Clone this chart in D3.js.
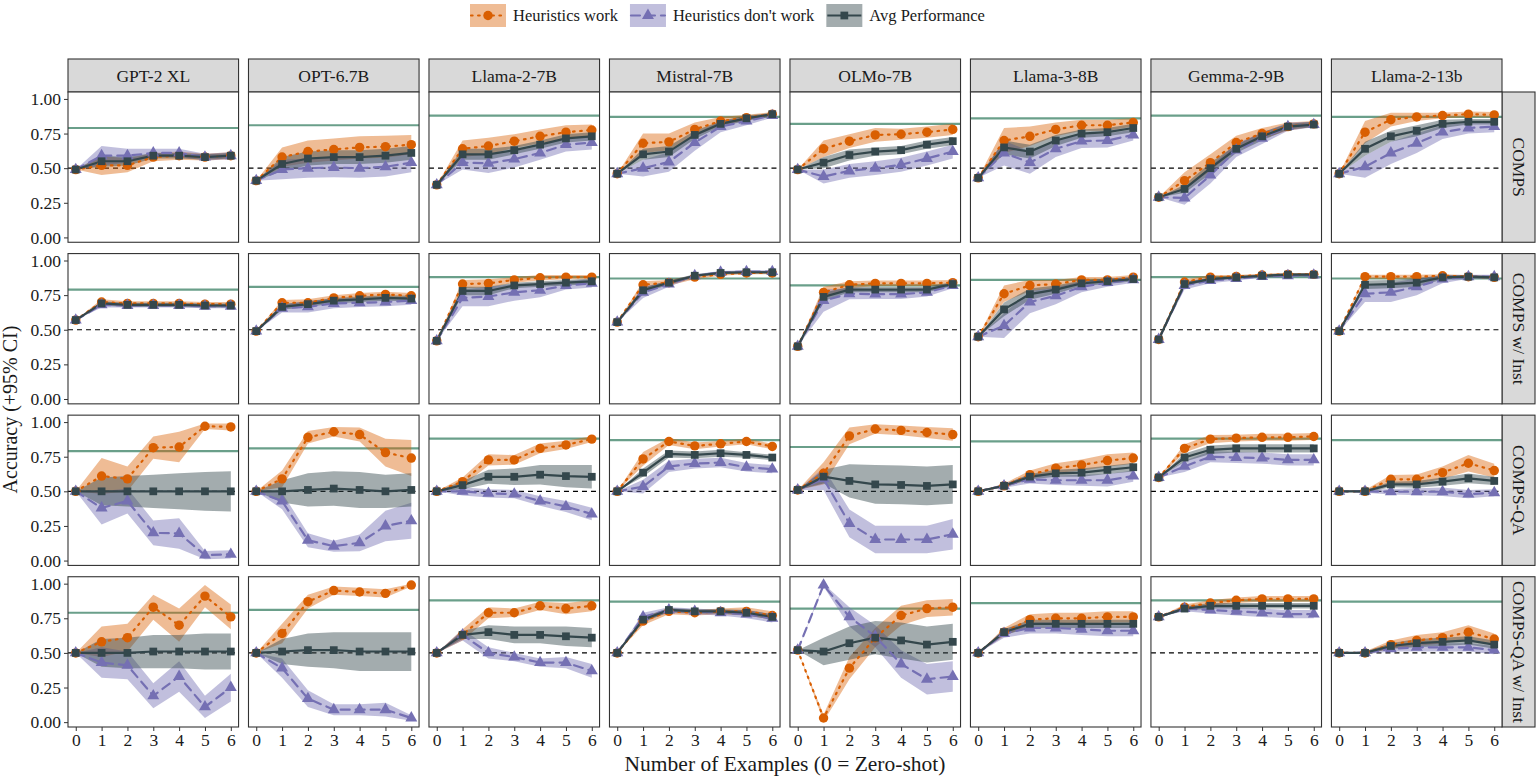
<!DOCTYPE html>
<html>
<head>
<meta charset="utf-8">
<script src="https://cdn.jsdelivr.net/npm/d3@7.9.0/dist/d3.min.js"></script>
<style>
  body { margin: 0; background: #fff; }
  text { font-family: "Liberation Serif", "DejaVu Serif", serif; fill: #1a1a1a; }
</style>
</head>
<body>
<svg id="chart"></svg>
<script>
const models = ['GPT-2 XL', 'OPT-6.7B', 'Llama-2-7B', 'Mistral-7B', 'OLMo-7B', 'Llama-3-8B', 'Gemma-2-9B', 'Llama-2-13b'];
const tasks = ['COMPS', 'COMPS w/ Inst', 'COMPS-QA', 'COMPS-QA w/ Inst'];
const shots = [0, 1, 2, 3, 4, 5, 6];
const yTicks = [0, 0.25, 0.5, 0.75, 1];
const chance = 0.5;
// green reference line, one per model
const baseline = [0.79, 0.81, 0.88, 0.87, 0.82, 0.86, 0.88, 0.87];

// [task][model][shot]
const workMean = [
  [[0.49,0.52,0.52,0.58,0.59,0.58,0.59],[0.41,0.58,0.62,0.635,0.65,0.655,0.67],[0.38,0.64,0.66,0.695,0.73,0.76,0.775],[0.46,0.68,0.69,0.78,0.84,0.865,0.89],
   [0.49,0.64,0.695,0.74,0.745,0.76,0.78],[0.43,0.70,0.73,0.78,0.81,0.81,0.83],[0.29,0.41,0.54,0.685,0.75,0.80,0.82],[0.46,0.76,0.85,0.87,0.88,0.89,0.885]],
  [[0.57,0.70,0.69,0.69,0.69,0.685,0.685],[0.49,0.695,0.695,0.73,0.745,0.755,0.745],[0.42,0.83,0.835,0.86,0.875,0.88,0.88],[0.555,0.825,0.84,0.88,0.90,0.91,0.91],
   [0.38,0.77,0.825,0.835,0.835,0.835,0.84],[0.45,0.76,0.82,0.83,0.86,0.86,0.88],[0.43,0.845,0.88,0.885,0.895,0.90,0.90],[0.49,0.883,0.883,0.883,0.89,0.883,0.878]],
  [[0.50,0.61,0.59,0.815,0.82,0.97,0.965],[0.50,0.59,0.89,0.93,0.91,0.78,0.74],[0.50,0.57,0.727,0.727,0.81,0.835,0.877],[0.50,0.734,0.86,0.828,0.843,0.86,0.824],
   [0.51,0.63,0.90,0.95,0.94,0.925,0.91],[0.50,0.54,0.62,0.667,0.69,0.722,0.74],[0.60,0.81,0.877,0.884,0.89,0.89,0.896],[0.50,0.50,0.587,0.587,0.635,0.703,0.65]],
  [[0.50,0.58,0.61,0.83,0.70,0.91,0.76],[0.50,0.64,0.87,0.95,0.94,0.93,0.99],[0.50,0.63,0.79,0.79,0.84,0.82,0.84],[0.50,0.73,0.80,0.79,0.80,0.80,0.77],
   [0.52,0.03,0.39,0.61,0.77,0.82,0.83],[0.50,0.65,0.74,0.75,0.75,0.76,0.76],[0.76,0.83,0.86,0.88,0.89,0.89,0.89],[0.50,0.50,0.56,0.59,0.61,0.65,0.60]]
];
const workErr = [
  [[0,0.07,0.05,0.03,0.03,0.025,0.025],[0,0.07,0.08,0.08,0.08,0.08,0.07],[0,0.06,0.06,0.05,0.05,0.05,0.04],[0,0.07,0.06,0.05,0.03,0.02,0.015],
   [0,0.06,0.05,0.05,0.04,0.04,0.04],[0,0.09,0.07,0.05,0.04,0.04,0.03],[0,0.06,0.06,0.05,0.04,0.03,0.02],[0,0.08,0.05,0.03,0.02,0.02,0.02]],
  [[0,0.02,0.015,0.015,0.015,0.015,0.015],[0,0.02,0.025,0.02,0.02,0.02,0.02],[0,0.03,0.03,0.02,0.02,0.015,0.015],[0,0.025,0.02,0.015,0.01,0.01,0.01],
   [0,0.04,0.025,0.02,0.02,0.02,0.02],[0,0.06,0.04,0.03,0.02,0.02,0.015],[0,0.02,0.015,0.01,0.01,0.01,0.01],[0,0.015,0.015,0.015,0.01,0.01,0.01]],
  [[0,0.13,0.09,0.08,0.11,0.02,0.025],[0,0.06,0.045,0.035,0.05,0.10,0.13],[0,0.03,0.04,0.035,0.035,0.03,0.02],[0,0.05,0.025,0.025,0.02,0.02,0.02],
   [0,0.08,0.06,0.035,0.035,0.04,0.045],[0,0.015,0.03,0.035,0.04,0.045,0.04],[0,0.03,0.03,0.025,0.025,0.025,0.025],[0,0.01,0.03,0.035,0.045,0.06,0.05]],
  [[0,0.11,0.10,0.09,0.12,0.08,0.09],[0,0.07,0.05,0.03,0.03,0.03,0.01],[0,0.04,0.04,0.03,0.03,0.04,0.04],[0,0.03,0.02,0.02,0.02,0.03,0.03],
   [0,0.025,0.08,0.07,0.07,0.06,0.06],[0,0.03,0.04,0.04,0.04,0.04,0.04],[0,0.02,0.02,0.02,0.02,0.02,0.02],[0,0.01,0.03,0.04,0.04,0.05,0.04]]
];
const failMean = [
  [[0.49,0.59,0.59,0.61,0.61,0.58,0.59],[0.41,0.49,0.50,0.505,0.50,0.51,0.54],[0.38,0.54,0.535,0.565,0.61,0.67,0.685],[0.46,0.50,0.545,0.685,0.80,0.84,0.88],
   [0.49,0.44,0.48,0.50,0.525,0.57,0.62],[0.43,0.61,0.54,0.64,0.695,0.70,0.74],[0.29,0.285,0.45,0.63,0.715,0.80,0.815],[0.46,0.51,0.61,0.68,0.76,0.79,0.80]],
  [[0.57,0.68,0.675,0.675,0.675,0.67,0.67],[0.49,0.655,0.665,0.69,0.695,0.70,0.71],[0.42,0.73,0.74,0.77,0.785,0.82,0.835],[0.555,0.77,0.83,0.89,0.915,0.92,0.92],
   [0.38,0.71,0.76,0.757,0.757,0.77,0.82],[0.45,0.53,0.70,0.745,0.81,0.84,0.86],[0.43,0.82,0.855,0.87,0.885,0.89,0.895],[0.49,0.76,0.77,0.81,0.866,0.883,0.883]],
  [[0.50,0.38,0.43,0.20,0.196,0.04,0.045],[0.50,0.43,0.147,0.104,0.128,0.25,0.287],[0.50,0.50,0.485,0.48,0.43,0.39,0.336],[0.50,0.534,0.68,0.70,0.708,0.674,0.66],
   [0.51,0.59,0.268,0.152,0.152,0.152,0.19],[0.50,0.54,0.587,0.58,0.58,0.58,0.61],[0.60,0.68,0.75,0.744,0.74,0.727,0.727],[0.50,0.50,0.497,0.497,0.497,0.48,0.49]],
  [[0.50,0.43,0.41,0.19,0.33,0.11,0.25],[0.50,0.39,0.17,0.09,0.09,0.09,0.03],[0.50,0.63,0.50,0.47,0.43,0.43,0.37],[0.50,0.76,0.81,0.80,0.79,0.78,0.75],
   [0.52,0.99,0.76,0.62,0.42,0.31,0.33],[0.50,0.64,0.68,0.68,0.67,0.66,0.66],[0.76,0.82,0.81,0.80,0.79,0.78,0.78],[0.50,0.50,0.53,0.54,0.54,0.54,0.52]]
];
const failErr = [
  [[0,0.07,0.05,0.03,0.03,0.025,0.025],[0,0.07,0.07,0.07,0.07,0.07,0.07],[0,0.05,0.07,0.06,0.05,0.05,0.05],[0,0.06,0.07,0.06,0.04,0.03,0.015],
   [0,0.05,0.05,0.05,0.05,0.05,0.05],[0,0.09,0.08,0.06,0.05,0.05,0.04],[0,0.05,0.06,0.05,0.04,0.03,0.02],[0,0.08,0.08,0.07,0.05,0.04,0.04]],
  [[0,0.02,0.015,0.015,0.015,0.015,0.015],[0,0.03,0.04,0.035,0.03,0.03,0.03],[0,0.06,0.07,0.06,0.05,0.03,0.03],[0,0.04,0.02,0.01,0.01,0.01,0.01],
   [0,0.08,0.04,0.035,0.035,0.03,0.02],[0,0.09,0.08,0.06,0.04,0.03,0.02],[0,0.03,0.02,0.015,0.01,0.01,0.01],[0,0.06,0.07,0.06,0.03,0.015,0.015]],
  [[0,0.12,0.09,0.09,0.11,0.03,0.03],[0,0.06,0.05,0.04,0.06,0.11,0.13],[0,0.03,0.03,0.03,0.035,0.04,0.045],[0,0.05,0.04,0.035,0.035,0.03,0.03],
   [0,0.08,0.10,0.10,0.10,0.10,0.11],[0,0.015,0.03,0.035,0.04,0.045,0.04],[0,0.04,0.04,0.04,0.04,0.04,0.04],[0,0.01,0.02,0.025,0.03,0.03,0.025]],
  [[0,0.11,0.10,0.09,0.11,0.08,0.10],[0,0.07,0.06,0.04,0.04,0.05,0.02],[0,0.04,0.04,0.03,0.03,0.04,0.05],[0,0.03,0.02,0.02,0.02,0.03,0.03],
   [0,0.01,0.07,0.08,0.10,0.11,0.11],[0,0.03,0.04,0.04,0.04,0.04,0.04],[0,0.02,0.025,0.03,0.03,0.03,0.03],[0,0.01,0.02,0.03,0.03,0.03,0.03]]
];
const avgMean = [
  [[0.49,0.55,0.55,0.59,0.59,0.58,0.59],[0.41,0.53,0.57,0.58,0.58,0.59,0.61],[0.38,0.60,0.60,0.63,0.67,0.715,0.73],[0.46,0.60,0.62,0.74,0.82,0.86,0.89],
   [0.49,0.54,0.595,0.62,0.63,0.67,0.695],[0.43,0.65,0.62,0.70,0.75,0.76,0.79],[0.29,0.35,0.50,0.64,0.73,0.80,0.815],[0.46,0.64,0.73,0.77,0.82,0.835,0.835]],
  [[0.57,0.69,0.68,0.68,0.68,0.675,0.675],[0.49,0.665,0.685,0.71,0.72,0.73,0.725],[0.42,0.78,0.78,0.82,0.83,0.84,0.85],[0.555,0.785,0.84,0.89,0.91,0.915,0.915],
   [0.38,0.737,0.79,0.79,0.79,0.79,0.83],[0.45,0.647,0.757,0.79,0.835,0.85,0.866],[0.43,0.83,0.866,0.878,0.89,0.898,0.898],[0.49,0.825,0.83,0.84,0.878,0.883,0.878]],
  [[0.50,0.50,0.50,0.50,0.50,0.50,0.50],[0.50,0.50,0.51,0.52,0.51,0.50,0.51],[0.50,0.545,0.605,0.605,0.62,0.61,0.605],[0.50,0.635,0.77,0.763,0.775,0.763,0.744],
   [0.51,0.606,0.575,0.55,0.546,0.539,0.55],[0.50,0.54,0.606,0.63,0.635,0.655,0.674],[0.60,0.744,0.80,0.81,0.81,0.81,0.81],[0.50,0.50,0.55,0.55,0.57,0.594,0.575]],
  [[0.50,0.50,0.50,0.51,0.51,0.51,0.51],[0.50,0.51,0.52,0.52,0.51,0.51,0.51],[0.50,0.63,0.65,0.63,0.63,0.62,0.61],[0.50,0.74,0.81,0.80,0.80,0.79,0.76],
   [0.52,0.51,0.57,0.61,0.59,0.56,0.58],[0.50,0.65,0.71,0.71,0.71,0.71,0.71],[0.76,0.82,0.84,0.84,0.84,0.84,0.84],[0.50,0.50,0.55,0.57,0.58,0.59,0.56]]
];
const avgErr = [
  [[0,0.04,0.03,0.02,0.02,0.02,0.02],[0,0.05,0.05,0.05,0.05,0.05,0.05],[0,0.04,0.04,0.03,0.03,0.03,0.03],[0,0.04,0.04,0.03,0.02,0.02,0.01],
   [0,0.04,0.04,0.03,0.03,0.03,0.03],[0,0.05,0.05,0.04,0.03,0.03,0.03],[0,0.03,0.04,0.03,0.03,0.02,0.02],[0,0.05,0.04,0.04,0.03,0.02,0.02]],
  [[0,0.015,0.015,0.015,0.015,0.015,0.015],[0,0.02,0.02,0.02,0.02,0.02,0.02],[0,0.03,0.03,0.02,0.02,0.02,0.02],[0,0.02,0.015,0.01,0.01,0.01,0.01],
   [0,0.03,0.02,0.02,0.02,0.02,0.015],[0,0.05,0.04,0.03,0.02,0.02,0.015],[0,0.015,0.01,0.01,0.01,0.01,0.01],[0,0.03,0.03,0.03,0.015,0.01,0.01]],
  [[0,0.10,0.11,0.12,0.13,0.14,0.145],[0,0.08,0.12,0.125,0.13,0.12,0.12],[0,0.03,0.05,0.06,0.07,0.08,0.085],[0,0.03,0.025,0.025,0.025,0.02,0.02],
   [0,0.05,0.12,0.14,0.14,0.14,0.14],[0,0.01,0.02,0.025,0.03,0.03,0.03],[0,0.03,0.03,0.03,0.03,0.03,0.03],[0,0.01,0.02,0.025,0.03,0.035,0.03]],
  [[0,0.10,0.11,0.12,0.12,0.13,0.13],[0,0.09,0.12,0.13,0.14,0.14,0.14],[0,0.03,0.05,0.06,0.06,0.07,0.07],[0,0.02,0.015,0.015,0.015,0.02,0.02],
   [0,0.10,0.12,0.12,0.13,0.13,0.13],[0,0.02,0.03,0.03,0.03,0.03,0.03],[0,0.015,0.02,0.02,0.02,0.02,0.02],[0,0.01,0.02,0.03,0.03,0.03,0.03]]
];

const series = [
  { label: 'Heuristics work', color: '#d95f02', band: 0.42, mean: workMean, err: workErr, dash: '1.6,5.5', shape: d3.symbolCircle, size: 70 },
  { label: "Heuristics don't work", color: '#7570b3', band: 0.45, mean: failMean, err: failErr, dash: '9,6', shape: d3.symbolTriangle, size: 62 },
  { label: 'Avg Performance', color: '#34474c', band: 0.45, mean: avgMean, err: avgErr, dash: null, shape: d3.symbolSquare, size: 60 }
];

const width = 1539, height = 777;
const svg = d3.select('#chart').attr('width', width).attr('height', height);

const colBand = d3.scaleBand().domain(models).range([68, 1502]).paddingInner(0.055);
const rowBand = d3.scaleBand().domain(tasks).range([92, 727]).paddingInner(0.07);
const pw = colBand.bandwidth(), ph = rowBand.bandwidth();

const x = d3.scaleLinear().domain([-0.3, 6.3]).range([0, pw]);
const y = d3.scaleLinear().domain([-0.035, 1.05]).range([ph, 0]);

const stripH = 33;
const stripFont = '17.5px', tickFont = '17.5px';

// column strips
models.forEach(m => {
  const g = svg.append('g').attr('transform', `translate(${colBand(m)},${rowBand(tasks[0]) - stripH})`);
  g.append('rect').attr('width', pw).attr('height', stripH)
    .attr('fill', '#d9d9d9').attr('stroke', '#333').attr('stroke-width', 1.1);
  g.append('text').attr('x', pw / 2).attr('y', stripH / 2 + 6)
    .attr('text-anchor', 'middle').style('font-size', stripFont).text(m);
});

// row strips
tasks.forEach(t => {
  const g = svg.append('g').attr('transform', `translate(${colBand(models[7]) + pw},${rowBand(t)})`);
  g.append('rect').attr('width', stripH).attr('height', ph)
    .attr('fill', '#d9d9d9').attr('stroke', '#333').attr('stroke-width', 1.1);
  g.append('text').attr('transform', `translate(${stripH / 2 - 6},${ph / 2}) rotate(90)`)
    .attr('text-anchor', 'middle').style('font-size', stripFont).text(t);
});

const area = d3.area().x((d, i) => x(shots[i])).y0(d => y(d[0])).y1(d => y(d[1]));
const line = d3.line().x((d, i) => x(shots[i])).y(d => y(d));

tasks.forEach((t, ti) => {
  models.forEach((m, mi) => {
    const g = svg.append('g').attr('transform', `translate(${colBand(m)},${rowBand(t)})`);
    g.append('rect').attr('width', pw).attr('height', ph).attr('fill', '#fff');

    // reference lines
    g.append('line').attr('x1', 0).attr('x2', pw)
      .attr('y1', y(baseline[mi])).attr('y2', y(baseline[mi]))
      .attr('stroke', '#6a9f8a').attr('stroke-width', 2.2);
    g.append('line').attr('x1', 0).attr('x2', pw)
      .attr('y1', y(chance)).attr('y2', y(chance))
      .attr('stroke', '#000').attr('stroke-width', 1.2).attr('stroke-dasharray', '5,4');

    // ribbons
    series.forEach(s => {
      const mean = s.mean[ti][mi], err = s.err[ti][mi];
      const bounds = mean.map((v, i) => [v - err[i], v + err[i]]);
      g.append('path').datum(bounds).attr('d', area)
        .attr('fill', s.color).attr('fill-opacity', s.band);
    });
    // lines
    series.forEach(s => {
      g.append('path').datum(s.mean[ti][mi]).attr('d', line)
        .attr('fill', 'none').attr('stroke', s.color).attr('stroke-width', 2.2)
        .attr('stroke-linecap', s.dash ? 'round' : 'butt')
        .attr('stroke-dasharray', s.dash);
    });
    // points
    series.forEach(s => {
      g.selectAll(null).data(s.mean[ti][mi]).join('path')
        .attr('transform', (d, i) => `translate(${x(shots[i])},${y(d)})`)
        .attr('d', d3.symbol().type(s.shape).size(s.size))
        .attr('fill', s.color);
    });

    g.append('rect').attr('width', pw).attr('height', ph)
      .attr('fill', 'none').attr('stroke', '#333').attr('stroke-width', 1.1);

    if (mi === 0) {
      const ax = g.append('g').call(d3.axisLeft(y).tickValues(yTicks).tickFormat(d3.format('.2f')).tickSize(4).tickPadding(3));
      ax.select('.domain').remove();
      ax.selectAll('line').attr('stroke', '#333');
      ax.selectAll('text').style('font-size', tickFont).attr('fill', '#1a1a1a')
        .style('font-family', '"Liberation Serif", serif');
    }
    if (ti === tasks.length - 1) {
      const ax = g.append('g').attr('transform', `translate(0,${ph})`)
        .call(d3.axisBottom(x).tickValues(shots).tickFormat(d3.format('d')).tickSize(4).tickPadding(3));
      ax.select('.domain').remove();
      ax.selectAll('line').attr('stroke', '#333');
      ax.selectAll('text').style('font-size', tickFont).attr('fill', '#1a1a1a')
        .style('font-family', '"Liberation Serif", serif');
    }
  });
});

// axis titles
svg.append('text').attr('x', (68 + 1502) / 2).attr('y', 771)
  .attr('text-anchor', 'middle').style('font-size', '21.5px').text('Number of Examples (0 = Zero-shot)');
svg.append('text').attr('transform', `translate(17,${(92 + 727) / 2}) rotate(-90)`)
  .attr('text-anchor', 'middle').style('font-size', '20px').text('Accuracy (+95% CI)');

// legend
const legend = svg.append('g').attr('transform', 'translate(470,4)');
let lx = 0;
const keyW = 36, keyH = 23;
series.forEach(s => {
  const item = legend.append('g').attr('transform', `translate(${lx},0)`);
  item.append('rect').attr('width', keyW).attr('height', keyH)
    .attr('fill', s.color).attr('fill-opacity', s.band);
  item.append('line').attr('x1', 1).attr('x2', keyW - 1).attr('y1', keyH / 2).attr('y2', keyH / 2)
    .attr('stroke', s.color).attr('stroke-width', 2.2)
    .attr('stroke-linecap', s.dash ? 'round' : 'butt').attr('stroke-dasharray', s.dash);
  item.append('path').attr('transform', `translate(${keyW / 2},${keyH / 2})`)
    .attr('d', d3.symbol().type(s.shape).size(s.size)).attr('fill', s.color);
  const txt = item.append('text').attr('x', keyW + 7).attr('y', keyH / 2 + 5.5)
    .style('font-size', '16.5px').text(s.label);
  lx += keyW + 7 + txt.node().getComputedTextLength() + 12;
});
</script>
</body>
</html>
